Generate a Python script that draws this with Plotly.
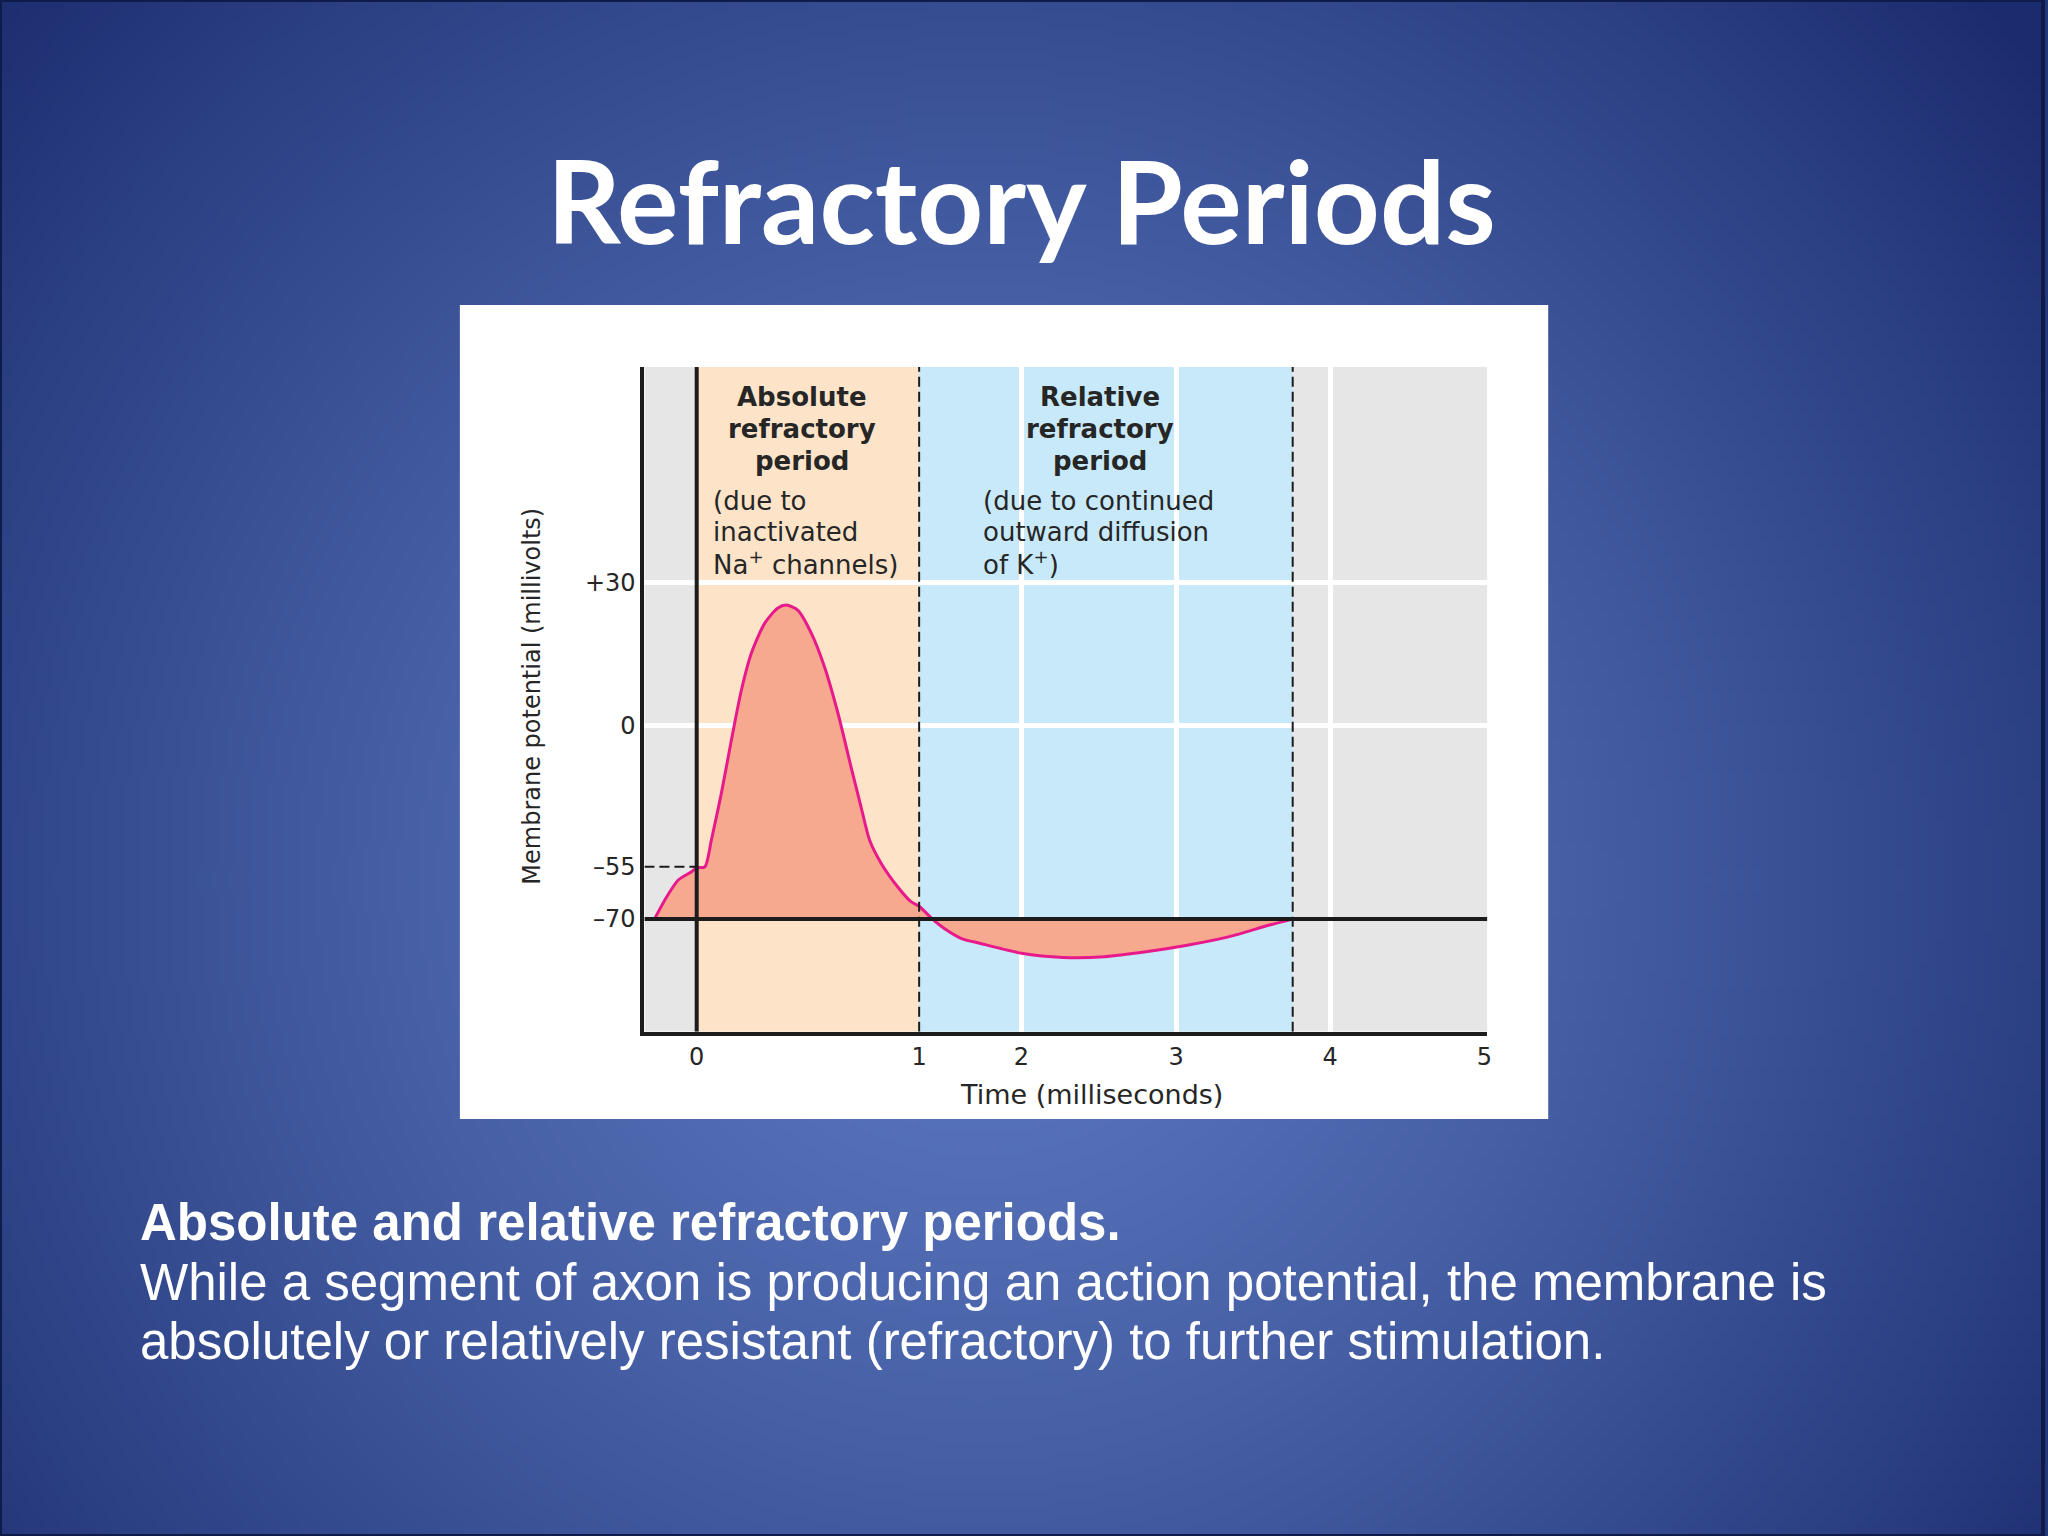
import base64
import struct
import zlib

import numpy as np
import plotly.graph_objects as go

# ---------------- data ----------------
TIME_MS = [-0.19, -0.143, -0.083, -0.023, 0.0, 0.037, 0.066, 0.111, 0.156, 0.201,
           0.246, 0.306, 0.365, 0.403, 0.455, 0.515, 0.575, 0.635, 0.694, 0.739,
           0.777, 0.829, 0.904, 0.963, 1.0, 1.13, 1.246, 1.408, 1.6, 2.0,
           2.27, 2.537, 2.805, 3.072, 3.34, 3.607, 3.757]
POTENTIAL_MV = [-70.0, -64.5, -58.8, -56.4, -55.3, -55.0, -44.6, -26.4, -5.8, 7.4,
                15.2, 21.5, 24.7, 25.3, 24.2, 19.4, 12.2, 2.5, -16.3, -31.8,
                -44.6, -53.6, -60.8, -65.0, -66.3, -70.0, -72.7, -75.5, -77.0, -79.8,
                -81.0, -80.8, -79.4, -77.5, -75.1, -71.7, -70.0]

X_TICK_MS = [0, 1, 2, 3, 4, 5]
X_TICK_TEXT = ["0", "1", "2", "3", "4", "5"]
Y_TICK_MV = [-70, -55, 0, 30]
Y_TICK_TEXT = ["\u201370", "\u201355", "0", "+30"]
X_GRID_MS = [2, 3, 4]
Y_GRID_MV = [0, 30]
RESTING_MV = -70
THRESHOLD_MV = -55
ABSOLUTE_MS = [0, 1]
RELATIVE_MS = [1, 3.757]
X_RANGE_MS = [-0.235, 5.02]
Y_RANGE_MV = [-102.3, 75.5]

ABS_TITLE = ["Absolute", "refractory", "period"]
ABS_NOTE = ["(due to", "inactivated", "Na<sup>+</sup> channels)"]
REL_TITLE = ["Relative", "refractory", "period"]
REL_NOTE = ["(due to continued", "outward diffusion", "of K<sup>+</sup>)"]

SLIDE_TITLE = "Refractory Periods"
CAPTION_BOLD = "Absolute and relative refractory periods."
CAPTION_LINES = ["While a segment of axon is producing an action potential, the membrane is",
                 "absolutely or relatively resistant (refractory) to further stimulation."]

# ---------------- schematic (non-uniform) axis scales of the original figure ----------------
X_TICK_POS = [0, 223, 325.5, 480.5, 635, 789.5]
Y_TICK_POS = [0, 52.3, 194, 336.3]


def warp(v, knots, pos):
    v = np.atleast_1d(np.asarray(v, float))
    k = np.asarray(knots, float)
    p = np.asarray(pos, float)
    out = np.interp(v, k, p)
    lo = v < k[0]
    hi = v > k[-1]
    out[lo] = p[0] + (v[lo] - k[0]) * (p[1] - p[0]) / (k[1] - k[0])
    out[hi] = p[-1] + (v[hi] - k[-1]) * (p[-1] - p[-2]) / (k[-1] - k[-2])
    return out


def wx(v):
    return warp(v, X_TICK_MS, X_TICK_POS)


def wy(v):
    return warp(v, Y_TICK_MV, Y_TICK_POS)


W, H = 2048, 1536


def px(x, y):
    return x / W, 1 - y / H


# ---------------- background gradient image ----------------
def gradient_uri(w=256, h=192):
    xs = (np.arange(w) + 0.5) * W / w
    ys = (np.arange(h) + 0.5) * H / h
    X, Y = np.meshgrid(xs, ys)
    d = np.sqrt((X - 980) ** 2 + (Y - 880) ** 2)
    r = np.clip(d / 1350, 0, 1) ** 1.3
    c0 = np.array([92, 121, 193], float)
    c1 = np.array([27, 44, 110], float)
    img = c0[None, None, :] + (c1 - c0)[None, None, :] * r[:, :, None]
    img = np.clip(img, 0, 255).astype(np.uint8)
    raw = b"".join(b"\x00" + img[j].tobytes() for j in range(h))

    def chunk(tag, data):
        c = struct.pack(">I", len(data)) + tag + data
        return c + struct.pack(">I", zlib.crc32(tag + data) & 0xFFFFFFFF)

    png = (b"\x89PNG\r\n\x1a\n"
           + chunk(b"IHDR", struct.pack(">IIBBBBB", w, h, 8, 2, 0, 0, 0))
           + chunk(b"IDAT", zlib.compress(raw, 9))
           + chunk(b"IEND", b""))
    return "data:image/png;base64," + base64.b64encode(png).decode()


xr = wx(X_RANGE_MS)
yr = wy(Y_RANGE_MV)
xw = wx(TIME_MS)
yw = wy(POTENTIAL_MV)

fig = go.Figure()
fig.add_trace(go.Scatter(x=xw, y=wy([RESTING_MV] * len(TIME_MS)), mode="lines",
                         line=dict(width=0, color="rgba(0,0,0,0)"), hoverinfo="skip",
                         showlegend=False))
fig.add_trace(go.Scatter(x=xw, y=yw, mode="lines", fill="tonexty", fillcolor="#f6a98f",
                         line=dict(color="#e8198b", width=3, shape="spline", smoothing=0.7),
                         showlegend=False))

BLACK = "#1c1c1c"
shapes = [
    # white panel behind the figure
    dict(type="rect", xref="paper", yref="paper", x0=461 / W, x1=1552 / W,
         y0=1 - 1119 / H, y1=1 - 305 / H, fillcolor="white", line=dict(width=0), layer="below"),
    # plot background and period bands
    dict(type="rect", xref="x", yref="y", x0=xr[0], x1=xr[1], y0=yr[0], y1=yr[1],
         fillcolor="#e6e6e6", line=dict(width=0), layer="below"),
    dict(type="rect", xref="x", yref="y", x0=wx(ABSOLUTE_MS[0])[0], x1=wx(ABSOLUTE_MS[1])[0],
         y0=yr[0], y1=yr[1], fillcolor="#fde4c9", line=dict(width=0), layer="below"),
    dict(type="rect", xref="x", yref="y", x0=wx(RELATIVE_MS[0])[0], x1=wx(RELATIVE_MS[1])[0],
         y0=yr[0], y1=yr[1], fillcolor="#c8e9f9", line=dict(width=0), layer="below"),
    # resting potential line
    dict(type="line", xref="x", yref="y", x0=xr[0], x1=xr[1],
         y0=wy(RESTING_MV)[0], y1=wy(RESTING_MV)[0], line=dict(color=BLACK, width=4), layer="above"),
    # stimulus (t = 0) line
    dict(type="line", xref="x", yref="y", x0=wx(0)[0], x1=wx(0)[0],
         y0=yr[0], y1=yr[1], line=dict(color=BLACK, width=4), layer="above"),
    # period boundaries
    dict(type="line", xref="x", yref="y", x0=wx(RELATIVE_MS[0])[0], x1=wx(RELATIVE_MS[0])[0],
         y0=yr[0], y1=yr[1], line=dict(color=BLACK, width=2, dash="10px,5px"), layer="above"),
    dict(type="line", xref="x", yref="y", x0=wx(RELATIVE_MS[1])[0], x1=wx(RELATIVE_MS[1])[0],
         y0=yr[0], y1=yr[1], line=dict(color=BLACK, width=2, dash="10px,5px"), layer="above"),
    # threshold
    dict(type="line", xref="x", yref="y", x0=xr[0], x1=wx(0)[0],
         y0=wy(THRESHOLD_MV)[0], y1=wy(THRESHOLD_MV)[0],
         line=dict(color=BLACK, width=2, dash="10px,5px"), layer="above"),
    # slide border
    dict(type="rect", xref="paper", yref="paper", x0=0, x1=1, y0=0, y1=1,
         line=dict(color="#0f1b48", width=4), layer="above"),
]

TXT = "#262626"
CH_FONT = "DejaVu Sans"
ann = []


def add_text(text, x, y, size, color=TXT, family=CH_FONT, xanchor="center", angle=0):
    xp, yp = px(x, y)
    ann.append(dict(text=text, x=xp, y=yp, xref="paper", yref="paper", showarrow=False,
                    xanchor=xanchor, yanchor="middle", textangle=angle,
                    font=dict(family=family, size=size, color=color)))


TITLE_Y = [397, 429, 461]
NOTE_Y = [501, 532, 563]
for t, y in zip(ABS_TITLE, TITLE_Y):
    add_text("<b>%s</b>" % t, 804, y, 26)
for t, y in zip(REL_TITLE, TITLE_Y):
    add_text("<b>%s</b>" % t, 1103, y, 26)
for t, y in zip(ABS_NOTE, NOTE_Y):
    add_text(t, 713, y, 26, xanchor="left")
for t, y in zip(REL_NOTE, NOTE_Y):
    add_text(t, 983, y, 26, xanchor="left")

add_text("Membrane potential (millivolts)", 533, 696, 24, angle=-90)
add_text("Time (milliseconds)", 1094, 1094, 27)

add_text("<b>%s</b>" % SLIDE_TITLE, 1024, 199, 115, color="white", family="Lato")
add_text("<b>%s</b>" % CAPTION_BOLD, 138, 1222, 51, color="white",
         family="Liberation Sans, Arial", xanchor="left")
for t, y in zip(CAPTION_LINES, [1282, 1341]):
    add_text(t, 138, y, 51, color="white", family="Liberation Sans, Arial", xanchor="left")

fig.update_layout(
    width=W, height=H, margin=dict(l=0, r=0, t=0, b=0),
    paper_bgcolor="#24387c", plot_bgcolor="rgba(0,0,0,0)",
    shapes=shapes, annotations=ann, showlegend=False,
    images=[dict(source=gradient_uri(), xref="paper", yref="paper", x=0, y=1,
                 sizex=1, sizey=1, sizing="stretch", xanchor="left", yanchor="top",
                 layer="below")],
    xaxis=dict(domain=[646 / W, 1491 / W], range=list(xr), tickmode="array",
               tickvals=list(wx(X_TICK_MS)), ticktext=X_TICK_TEXT, showgrid=False,
               zeroline=False, showline=True, linecolor=BLACK, linewidth=4,
               ticks="",
               tickfont=dict(family=CH_FONT, size=24, color=TXT),
               minor=dict(tickmode="array", tickvals=list(wx(X_GRID_MS)), showgrid=True,
                          gridcolor="white", gridwidth=5, ticks="")),
    yaxis=dict(domain=[1 - 1031.7 / H, 1 - 367 / H], range=list(yr), tickmode="array",
               tickvals=list(wy(Y_TICK_MV)), ticktext=Y_TICK_TEXT, showgrid=False,
               zeroline=False, showline=True, linecolor=BLACK, linewidth=4,
               ticks="",
               tickfont=dict(family=CH_FONT, size=24, color=TXT),
               minor=dict(tickmode="array", tickvals=list(wy(Y_GRID_MV)), showgrid=True,
                          gridcolor="white", gridwidth=5, ticks="")),
)

fig.write_html("out.html")
